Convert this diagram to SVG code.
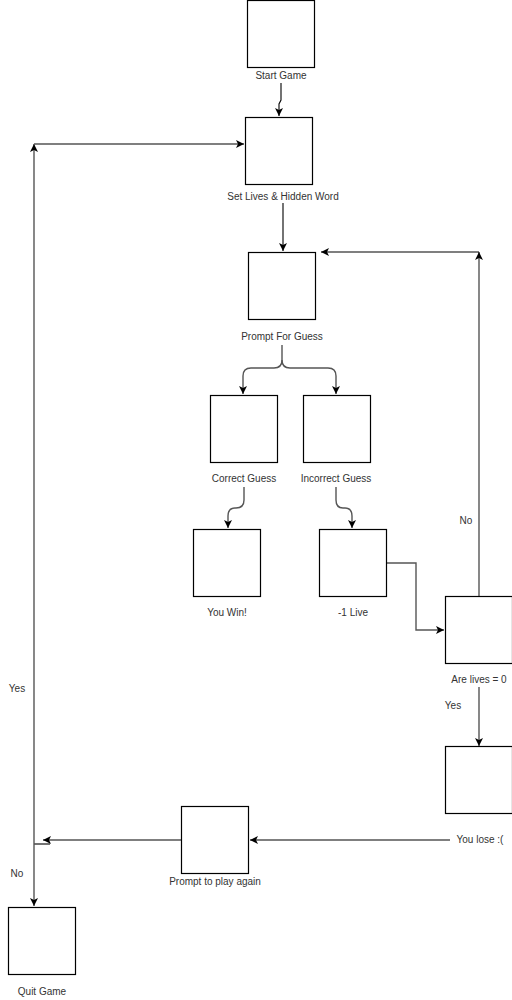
<svg xmlns="http://www.w3.org/2000/svg" width="512" height="1000" viewBox="0 0 512 1000">
<defs>
<marker id="arr" markerUnits="userSpaceOnUse" markerWidth="10" markerHeight="10" refX="8" refY="4" orient="auto">
<path d="M0,0 L8,4 L0,8 L2,4 z" fill="#000"/>
</marker>
<style>
.box{fill:#fff;stroke:#000;stroke-width:1.2}
.lbl{font-family:"Liberation Sans",Arial,sans-serif;font-size:10px;fill:#333;text-anchor:middle}
.c{fill:none;stroke:#555;stroke-width:1.4}
.k{stroke:#000;stroke-width:1.1}
</style>
</defs>
<rect width="512" height="1000" fill="#fff"/>
<g id="connectors">
<path class="c k" d="M281,83 L281,100 L279,104 L279,116" marker-end="url(#arr)"/>
<path class="c k" d="M283,203 L283,251" marker-end="url(#arr)"/>
<path class="c" d="M282,345 L282,360 Q282,368 274,368 L251,368 Q243,368 243,376 L243,394" marker-end="url(#arr)"/>
<path class="c" d="M282,360 Q282,368 290,368 L328,368 Q336,368 336,376 L336,394" marker-end="url(#arr)"/>
<path class="c" d="M244,487 L244,500 Q244,508 236,508 L235,508 Q228,508 228,516 L228,528" marker-end="url(#arr)"/>
<path class="c" d="M336,487 L336,500 Q336,508 343,508 L345,508 Q352,508 352,516 L352,528" marker-end="url(#arr)"/>
<path class="c" d="M386,563 L416,563 L416,630 L444,630" marker-end="url(#arr)"/>
<path class="c" d="M479,596 L479,252" marker-end="url(#arr)"/>
<path class="c k" d="M479,252 L321,252" marker-end="url(#arr)"/>
<path class="c" d="M479,687 L479,746" marker-end="url(#arr)"/>
<path class="c" d="M450,840 L250,840" marker-end="url(#arr)"/>
<path class="c" d="M181,840 L43,840" marker-end="url(#arr)"/>
<path class="c k" d="M34,844 L50,844"/>
<path class="c" d="M34,844 L34,144" marker-end="url(#arr)"/>
<path class="c" d="M34,144 L244,144" marker-end="url(#arr)"/>
<path class="c" d="M34,844 L34,906" marker-end="url(#arr)"/>
<text class="lbl" x="466" y="524">No</text>
<text class="lbl" x="453" y="709">Yes</text>
<text class="lbl" x="17" y="692">Yes</text>
<text class="lbl" x="17" y="877">No</text>
<text class="lbl" x="480" y="843">You lose :(</text>
</g>
<g id="start-game"><rect class="box" x="247.5" y="0.5" width="67" height="67"/><text class="lbl" x="281" y="79">Start Game</text></g>
<g id="set-lives"><rect class="box" x="245.5" y="117.5" width="67" height="67"/><text class="lbl" x="283" y="200">Set Lives &amp; Hidden Word</text></g>
<g id="prompt-guess"><rect class="box" x="248.5" y="252.5" width="67" height="67"/><text class="lbl" x="282" y="340">Prompt For Guess</text></g>
<g id="correct-guess"><rect class="box" x="210.5" y="395.5" width="67" height="67"/><text class="lbl" x="244" y="482">Correct Guess</text></g>
<g id="incorrect-guess"><rect class="box" x="303.5" y="395.5" width="67" height="67"/><text class="lbl" x="336" y="482">Incorrect Guess</text></g>
<g id="you-win"><rect class="box" x="193.5" y="529.5" width="67" height="67"/><text class="lbl" x="227" y="616">You Win!</text></g>
<g id="minus-live"><rect class="box" x="319.5" y="529.5" width="67" height="67"/><text class="lbl" x="353" y="616">-1 Live</text></g>
<g id="are-lives"><rect class="box" x="445.5" y="596.5" width="67" height="67"/><text class="lbl" x="479" y="683">Are lives = 0</text></g>
<g id="lose-box"><rect class="box" x="445.5" y="746.5" width="67" height="67"/></g>
<g id="prompt-again"><rect class="box" x="181.5" y="806.5" width="67" height="67"/><text class="lbl" x="215" y="885">Prompt to play again</text></g>
<g id="quit-game"><rect class="box" x="8.5" y="907.5" width="67" height="67"/><text class="lbl" x="42" y="995">Quit Game</text></g>
</svg>
